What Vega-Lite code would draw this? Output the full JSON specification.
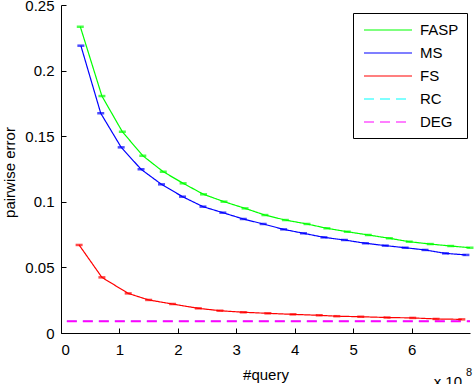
{
  "$schema": "https://vega.github.io/schema/vega-lite/v6.json",
  "width": 409,
  "height": 328,
  "autosize": {"type": "none"},
  "padding": {"left": 61, "top": 5, "right": 4, "bottom": 51},
  "background": "white",
  "config": {
    "font": "Liberation Sans",
    "view": {"stroke": null},
    "axis": {
      "grid": false,
      "domainColor": "black",
      "tickColor": "black",
      "labelColor": "black",
      "titleColor": "black",
      "labelFont": "Liberation Sans",
      "titleFont": "Liberation Sans",
      "labelFontSize": 15,
      "titleFontSize": 15,
      "titleFontWeight": "normal",
      "tickSize": -5,
      "domainWidth": 1,
      "tickWidth": 1
    }
  },
  "datasets": {
    "curves": [
      {"series": "FASP", "x": 0.33, "y": 0.2335},
      {"series": "FASP", "x": 0.70, "y": 0.1806},
      {"series": "FASP", "x": 1.05, "y": 0.1534},
      {"series": "FASP", "x": 1.40, "y": 0.1351},
      {"series": "FASP", "x": 1.75, "y": 0.1229},
      {"series": "FASP", "x": 2.09, "y": 0.1141},
      {"series": "FASP", "x": 2.44, "y": 0.1057},
      {"series": "FASP", "x": 2.79, "y": 0.1001},
      {"series": "FASP", "x": 3.15, "y": 0.0950},
      {"series": "FASP", "x": 3.49, "y": 0.0899},
      {"series": "FASP", "x": 3.84, "y": 0.0861},
      {"series": "FASP", "x": 4.21, "y": 0.0831},
      {"series": "FASP", "x": 4.55, "y": 0.0798},
      {"series": "FASP", "x": 4.90, "y": 0.0772},
      {"series": "FASP", "x": 5.26, "y": 0.0747},
      {"series": "FASP", "x": 5.62, "y": 0.0722},
      {"series": "FASP", "x": 5.96, "y": 0.0696},
      {"series": "FASP", "x": 6.32, "y": 0.0678},
      {"series": "FASP", "x": 6.67, "y": 0.0663},
      {"series": "FASP", "x": 7.00, "y": 0.0650},
      {"series": "MS", "x": 0.34, "y": 0.2190},
      {"series": "MS", "x": 0.68, "y": 0.1675},
      {"series": "MS", "x": 1.03, "y": 0.1415},
      {"series": "MS", "x": 1.37, "y": 0.1248},
      {"series": "MS", "x": 1.72, "y": 0.1133},
      {"series": "MS", "x": 2.08, "y": 0.1039},
      {"series": "MS", "x": 2.43, "y": 0.0963},
      {"series": "MS", "x": 2.77, "y": 0.0917},
      {"series": "MS", "x": 3.12, "y": 0.0869},
      {"series": "MS", "x": 3.46, "y": 0.0831},
      {"series": "MS", "x": 3.81, "y": 0.0790},
      {"series": "MS", "x": 4.15, "y": 0.0760},
      {"series": "MS", "x": 4.50, "y": 0.0729},
      {"series": "MS", "x": 4.85, "y": 0.0709},
      {"series": "MS", "x": 5.21, "y": 0.0684},
      {"series": "MS", "x": 5.55, "y": 0.0666},
      {"series": "MS", "x": 5.89, "y": 0.0650},
      {"series": "MS", "x": 6.23, "y": 0.0633},
      {"series": "MS", "x": 6.58, "y": 0.0607},
      {"series": "MS", "x": 6.93, "y": 0.0595},
      {"series": "FS", "x": 0.31, "y": 0.0671},
      {"series": "FS", "x": 0.70, "y": 0.0424},
      {"series": "FS", "x": 1.15, "y": 0.0302},
      {"series": "FS", "x": 1.50, "y": 0.0252},
      {"series": "FS", "x": 1.91, "y": 0.0221},
      {"series": "FS", "x": 2.35, "y": 0.0188},
      {"series": "FS", "x": 2.72, "y": 0.0170},
      {"series": "FS", "x": 3.12, "y": 0.0158},
      {"series": "FS", "x": 3.54, "y": 0.0150},
      {"series": "FS", "x": 3.97, "y": 0.0142},
      {"series": "FS", "x": 4.42, "y": 0.0135},
      {"series": "FS", "x": 4.72, "y": 0.0128},
      {"series": "FS", "x": 5.13, "y": 0.0124},
      {"series": "FS", "x": 5.58, "y": 0.0118},
      {"series": "FS", "x": 6.02, "y": 0.0115},
      {"series": "FS", "x": 6.42, "y": 0.0107},
      {"series": "FS", "x": 6.86, "y": 0.0104}
    ],
    "baselines": [
      {"series": "RC", "x": 0.1, "y": 0.009},
      {"series": "RC", "x": 7.0, "y": 0.009},
      {"series": "DEG", "x": 0.1, "y": 0.009},
      {"series": "DEG", "x": 7.0, "y": 0.009}
    ],
    "note": [
      {"x": 7.0, "y": 0, "t1": "x 10", "t2": "8"}
    ]
  },
  "encoding": {
    "x": {
      "field": "x", "type": "quantitative",
      "scale": {"domain": [0, 7], "nice": false, "zero": false},
      "axis": {"title": "#query", "values": [0, 1, 2, 3, 4, 5, 6], "labelPadding": 14, "titleY": 46, "titleBaseline": "alphabetic"}
    },
    "y": {
      "field": "y", "type": "quantitative",
      "scale": {"domain": [0, 0.25], "nice": false},
      "axis": {"title": "pairwise error", "values": [0, 0.05, 0.1, 0.15, 0.2, 0.25], "format": "~g", "labelPadding": 12, "titleX": -47, "titleY": 167, "titleAngle": -90, "titleBaseline": "alphabetic", "titleAlign": "center"}
    }
  },
  "layer": [
    {
      "data": {"name": "baselines"},
      "transform": [{"filter": "datum.series === 'RC'"}],
      "mark": {"type": "line", "strokeWidth": 1},
      "encoding": {
        "color": {"field": "series", "type": "nominal"},
        "strokeDash": {"field": "series", "type": "nominal"}
      }
    },
    {
      "data": {"name": "baselines"},
      "transform": [{"filter": "datum.series === 'DEG'"}],
      "mark": {"type": "line", "strokeWidth": 2},
      "encoding": {
        "color": {"field": "series", "type": "nominal"},
        "strokeDash": {"field": "series", "type": "nominal"}
      }
    },
    {
      "data": {"name": "curves"},
      "mark": {"type": "line", "strokeWidth": 1.2},
      "encoding": {
        "color": {
          "field": "series", "type": "nominal",
          "scale": {"domain": ["FASP", "MS", "FS", "RC", "DEG"], "range": ["#00ff00", "#0000ff", "#ff0000", "#00ffff", "#ff00ff"]},
          "legend": {
            "title": null, "orient": "none", "legendX": 292, "legendY": 8,
            "direction": "vertical",
            "symbolType": "M-1,0H5", "symbolSize": 256, "symbolStrokeWidth": 1.2, "symbolOffset": 2,
            "labelFont": "Liberation Sans", "labelFontSize": 15, "labelColor": "black",
            "labelOffset": 39, "rowPadding": 6, "padding": 8,
            "strokeColor": "black", "fillColor": "white", "cornerRadius": 0
          }
        },
        "strokeDash": {
          "field": "series", "type": "nominal",
          "scale": {"domain": ["FASP", "MS", "FS", "RC", "DEG"], "range": [[1, 0], [1, 0], [1, 0], [10, 6], [10, 6]]},
          "legend": {
            "title": null, "orient": "none", "legendX": 292, "legendY": 8,
            "direction": "vertical",
            "symbolType": "M-1,0H5", "symbolSize": 256, "symbolStrokeWidth": 1.2, "symbolOffset": 2,
            "labelFont": "Liberation Sans", "labelFontSize": 15, "labelColor": "black",
            "labelOffset": 39, "rowPadding": 6, "padding": 8,
            "strokeColor": "black", "fillColor": "white", "cornerRadius": 0
          }
        }
      }
    },
    {
      "data": {"name": "curves"},
      "mark": {"type": "tick", "orient": "horizontal", "size": 7, "thickness": 2.5},
      "encoding": {
        "color": {"field": "series", "type": "nominal", "legend": null}
      }
    },
    {
      "data": {"name": "note"},
      "mark": {"type": "text", "align": "right", "baseline": "alphabetic", "dx": -8, "dy": 54, "fontSize": 15, "font": "Liberation Sans", "color": "black"},
      "encoding": {"text": {"field": "t1"}}
    },
    {
      "data": {"name": "note"},
      "mark": {"type": "text", "align": "left", "baseline": "alphabetic", "dx": -4, "dy": 43, "fontSize": 11, "font": "Liberation Sans", "color": "black"},
      "encoding": {"text": {"field": "t2"}}
    }
  ]
}
